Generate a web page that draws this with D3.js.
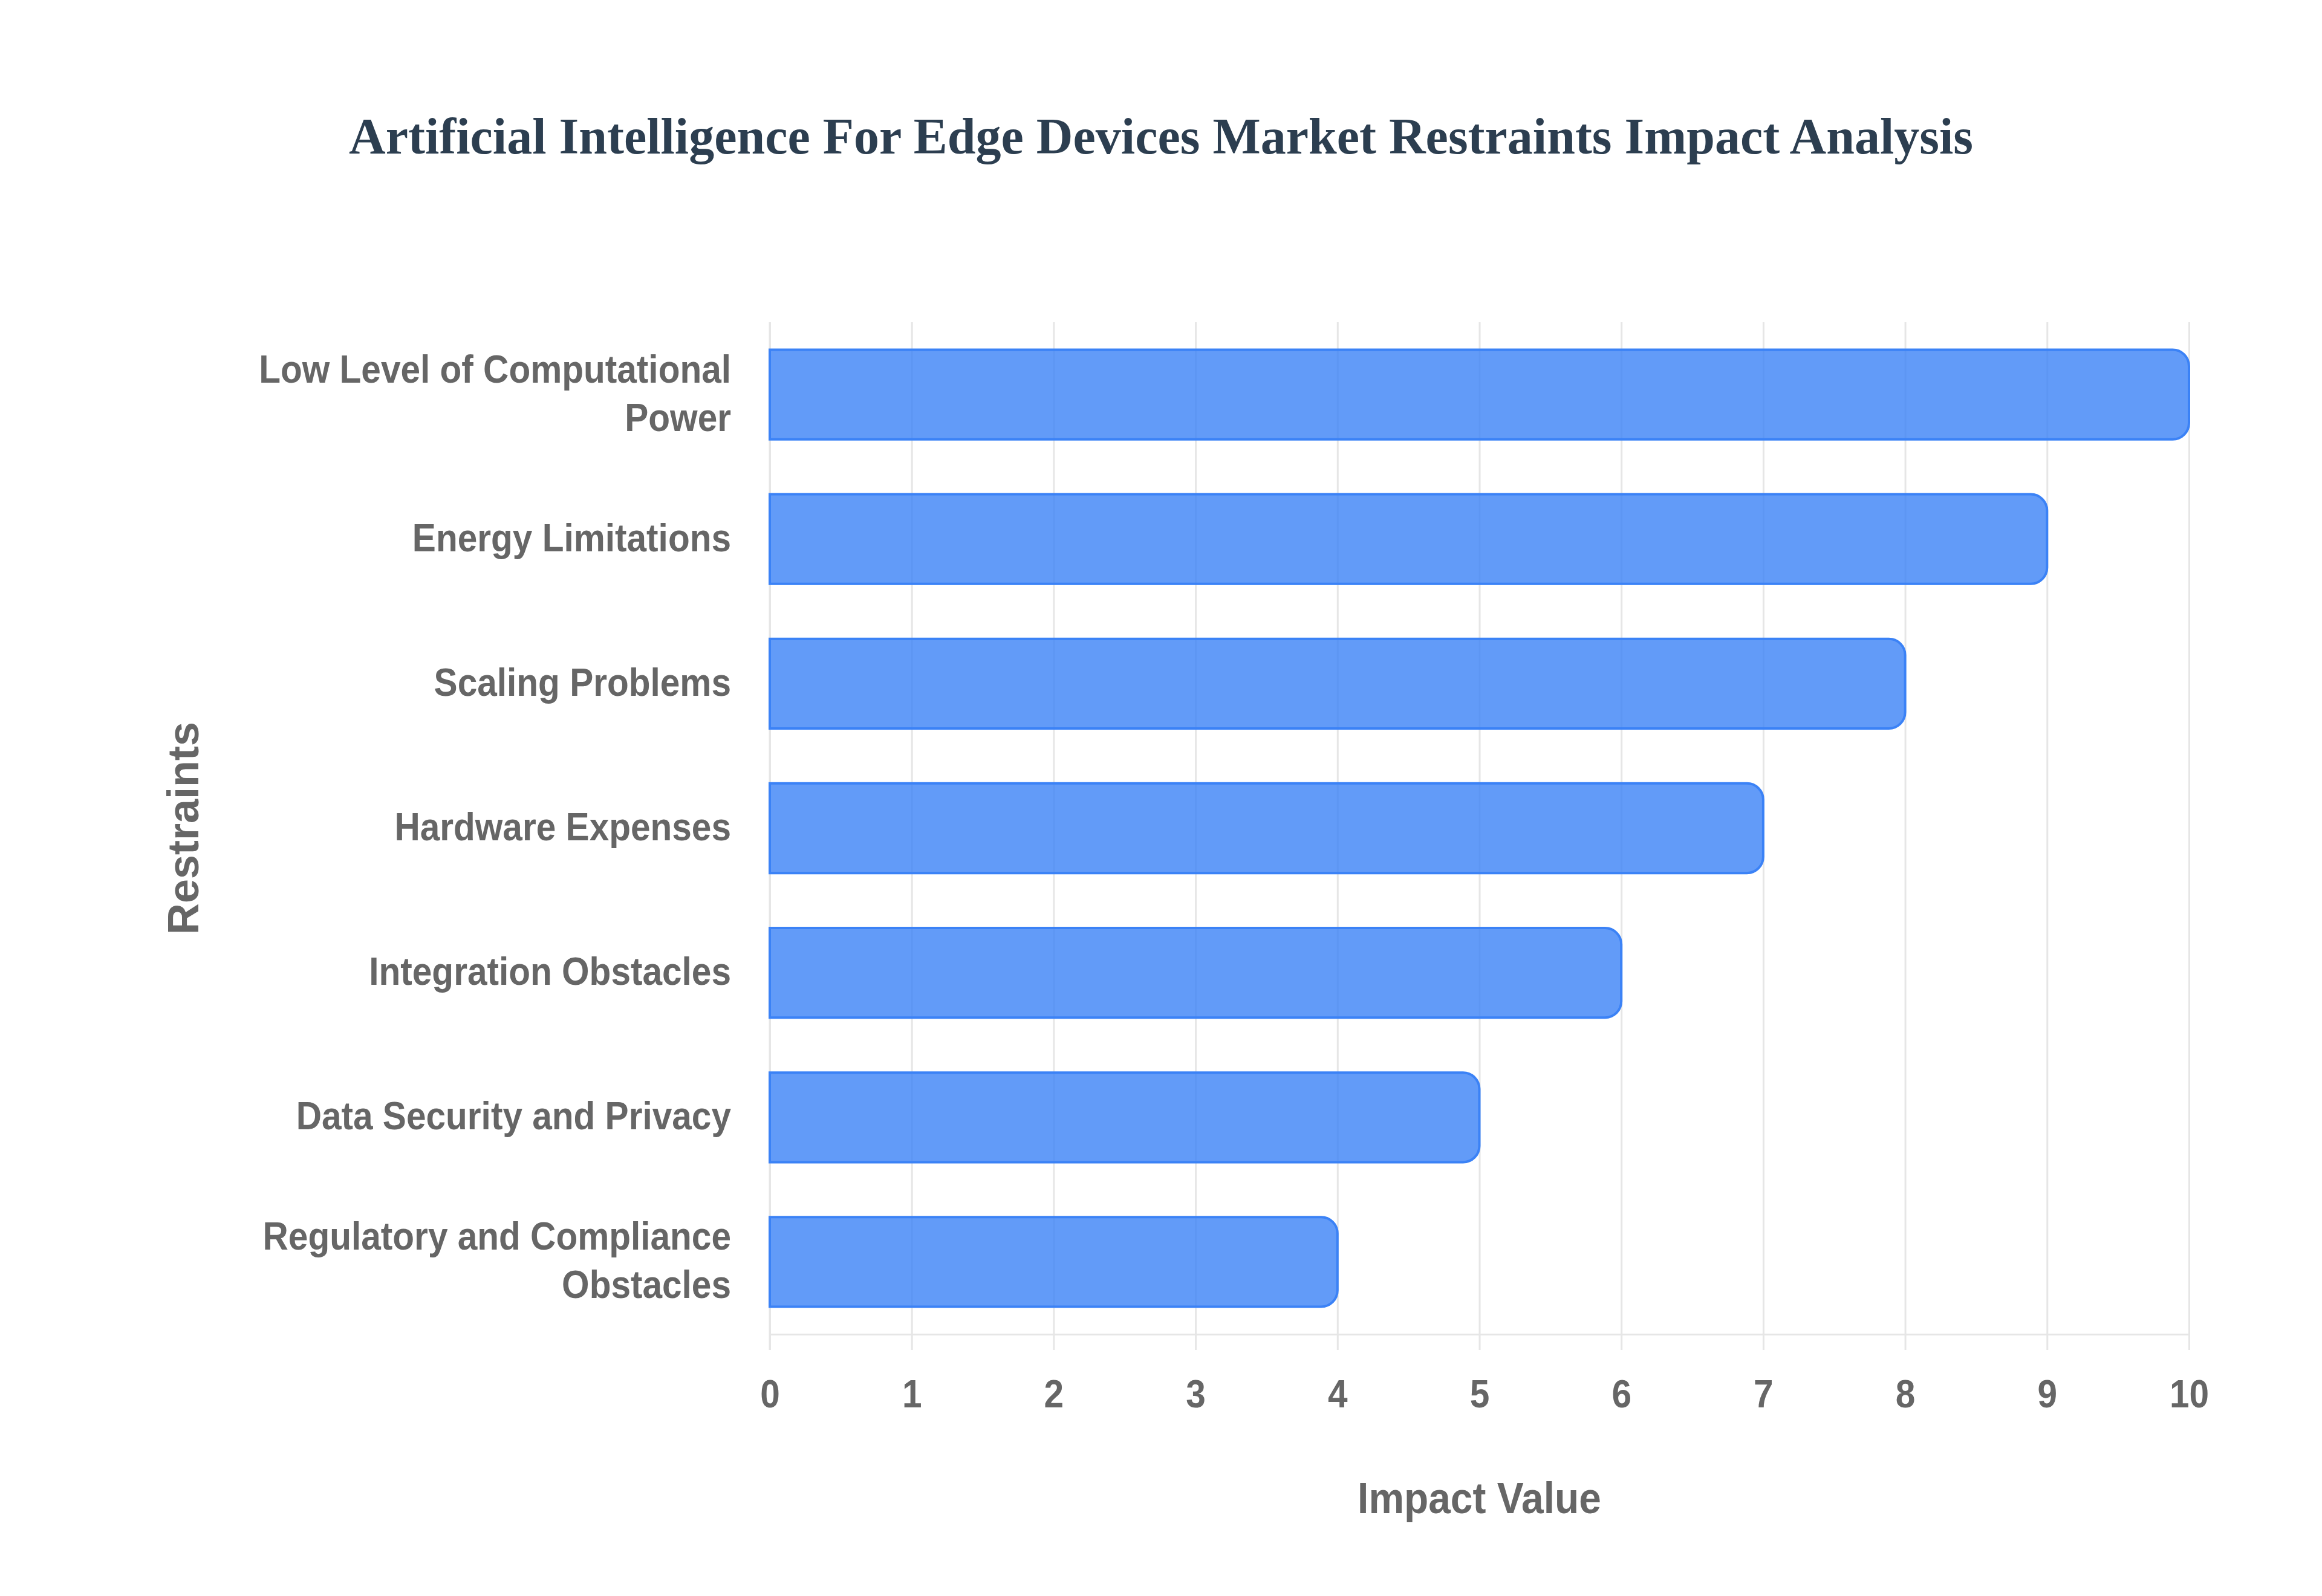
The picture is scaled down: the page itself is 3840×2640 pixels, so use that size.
<!DOCTYPE html>
<meta charset="utf-8">
<style>
body { margin: 0; background: #fff; }
.sans { font-family: "Liberation Sans", Arial, sans-serif; font-weight: bold; fill: #666; }
.grid line { stroke: #e6e6e6; stroke-width: 3; }
.grid path { display: none; }
</style>
<body>
<script src="https://d3js.org/d3.v7.min.js"></script>
<script>

var w = 3840;
var h = 2640;

// data, top bar first
var categories = [
    "Low Level of Computational Power",
    "Energy Limitations",
    "Scaling Problems",
    "Hardware Expenses",
    "Integration Obstacles",
    "Data Security and Privacy",
    "Regulatory and Compliance Obstacles"
];
var impactValues = [10, 9, 8, 7, 6, 5, 4];
var xTicks = [0, 1, 2, 3, 4, 5, 6, 7, 8, 9, 10];

var chartTitle = "Artificial Intelligence For Edge Devices Market Restraints Impact Analysis";
var xTitle = "Impact Value";
var yTitle = "Restraints";

// plot box
var margin = {top: 533, right: 220, bottom: 433, left: 1273},
    width = w - margin.left - margin.right,
    height = h - margin.top - margin.bottom;

var squeeze = 0.915;   // the sans text in the picture is a bit narrower than Liberation Sans

var svg = d3.select("body")
    .append("svg")
    .attr("width", w)
    .attr("height", h);

var g = svg.append("g")
    .attr("transform", "translate(" + margin.left + "," + margin.top + ")");

var x = d3.scaleLinear()
    .domain([0, 10])
    .range([0, width]);

var y = d3.scaleBand()
    .domain(categories)
    .range([0, height])
    .paddingInner(0.38)
    .paddingOuter(0.19);

function narrow(sel) {
    sel.each(function() {
        var len = this.getComputedTextLength();
        d3.select(this)
            .attr("textLength", len * squeeze)
            .attr("lengthAdjust", "spacingAndGlyphs");
    });
}

// vertical grid lines
g.append("g")
    .attr("class", "grid")
    .attr("transform", "translate(0," + height + ")")
    .call(d3.axisBottom(x).tickValues(xTicks).tickSize(height + 26).tickFormat(""))
    .selectAll("line")
    .attr("transform", "translate(0," + (-height) + ")");

// x axis
var xAxis = g.append("g")
    .attr("transform", "translate(0," + height + ")")
    .call(d3.axisBottom(x).tickValues(xTicks).tickSize(0).tickPadding(121).tickFormat(d3.format("d")));
xAxis.select(".domain").attr("stroke", "#e6e6e6").attr("stroke-width", 3);
xAxis.selectAll("text")
    .attr("class", "sans")
    .attr("dy", 0)
    .style("font-size", "64px")
    .call(narrow);

// left border
g.append("line")
    .attr("x1", 0).attr("x2", 0)
    .attr("y1", 0).attr("y2", height + 26)
    .attr("stroke", "#e6e6e6")
    .attr("stroke-width", 3);

// bars: square at zero, rounded at the value end
function barPath(x0, y0, x1, y1, r) {
    r = Math.min(r, (x1 - x0), (y1 - y0) / 2);
    return "M" + x0 + "," + y0 +
        "H" + (x1 - r) +
        "A" + r + "," + r + " 0 0 1 " + x1 + "," + (y0 + r) +
        "V" + (y1 - r) +
        "A" + r + "," + r + " 0 0 1 " + (x1 - r) + "," + y1 +
        "H" + x0 + "Z";
}

g.selectAll(".bar")
    .data(categories)
    .enter()
    .append("path")
    .attr("class", "bar")
    .attr("d", function(d, i) {
        return barPath(x(0), y(d), x(impactValues[i]), y(d) + y.bandwidth(), 27);
    })
    .attr("fill", "rgba(59,130,246,0.8)")
    .attr("stroke", "#3b82f6")
    .attr("stroke-width", 4);

// category labels, wrapped like the original
var lineGap = 80;
var maxLine = 800;
var labels = g.append("g");
categories.forEach(function(c) {
    var words = c.split(" ");
    var lines = [];
    var cur = [];
    var probe = labels.append("text").attr("class", "sans").style("font-size", "64px");
    words.forEach(function(wd) {
        var test = cur.concat([wd]).join(" ");
        probe.text(test);
        if (cur.length && probe.node().getComputedTextLength() * squeeze > maxLine) {
            lines.push(cur.join(" "));
            cur = [wd];
        } else {
            cur.push(wd);
        }
    });
    lines.push(cur.join(" "));
    probe.remove();

    var cy = y(c) + y.bandwidth() / 2;
    var first = cy + 20 - (lines.length - 1) * lineGap / 2;
    lines.forEach(function(t, k) {
        labels.append("text")
            .attr("class", "sans")
            .style("font-size", "64px")
            .attr("text-anchor", "end")
            .attr("x", -64)
            .attr("y", first + k * lineGap)
            .text(t)
            .call(narrow);
    });
});

// axis titles
svg.append("text")
    .attr("class", "sans")
    .style("font-size", "72px")
    .attr("text-anchor", "middle")
    .attr("x", margin.left + width / 2)
    .attr("y", 2503)
    .text(xTitle)
    .call(narrow);

svg.append("text")
    .attr("class", "sans")
    .style("font-size", "72px")
    .attr("text-anchor", "middle")
    .attr("transform", "translate(328," + (margin.top + height / 2) + ") rotate(-90)")
    .text(yTitle);

// chart title
svg.append("text")
    .attr("x", w / 2)
    .attr("y", 254)
    .attr("text-anchor", "middle")
    .style("font-family", "\"Liberation Serif\", \"Times New Roman\", serif")
    .style("font-weight", "bold")
    .style("font-size", "84px")
    .style("fill", "#2c3e50")
    .text(chartTitle);

</script>
</body>
